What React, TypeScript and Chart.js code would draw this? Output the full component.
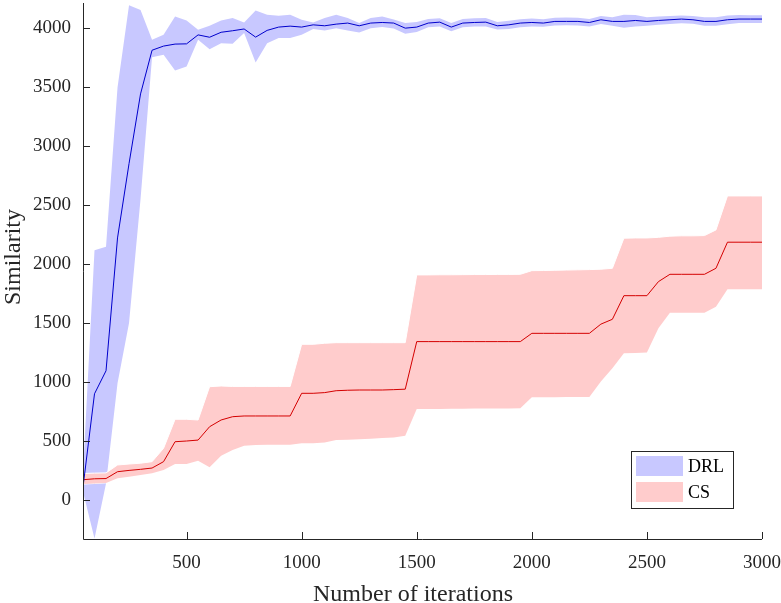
import React, { useEffect, useRef } from "react";
import { Chart, registerables } from "chart.js";

Chart.register(...registerables);

const iterations = [
  50, 100, 150, 200, 250, 300, 350, 400, 450, 500,
  550, 600, 650, 700, 750, 800, 850, 900, 950, 1000,
  1050, 1100, 1150, 1200, 1250, 1300, 1350, 1400, 1450, 1500,
  1550, 1600, 1650, 1700, 1750, 1800, 1850, 1900, 1950, 2000,
  2050, 2100, 2150, 2200, 2250, 2300, 2350, 2400, 2450, 2500,
  2550, 2600, 2650, 2700, 2750, 2800, 2850, 2900, 2950, 3000,
];

const drlMean = [
  110, 900, 1095, 2220, 2850, 3440, 3810, 3845, 3862, 3864,
  3940, 3920, 3962, 3975, 3990, 3921, 3978, 4006, 4014, 4006,
  4025, 4017, 4031, 4040, 4017, 4040, 4045, 4040, 3997, 4006,
  4040, 4048, 4006, 4040, 4045, 4048, 4017, 4025, 4040, 4045,
  4040, 4054, 4054, 4054, 4045, 4068, 4054, 4054, 4062, 4054,
  4062, 4068, 4074, 4068, 4054, 4054, 4068, 4074, 4074, 4074,
];

const drlUpper = [
  230, 2115, 2145, 3495, 4190, 4150, 3898, 3941, 4096, 4062,
  3983, 4017, 4062, 4082, 4045, 4147, 4110, 4102, 4110, 4068,
  4045, 4082, 4110, 4082, 4040, 4082, 4096, 4070, 4040, 4050,
  4075, 4080, 4040, 4075, 4080, 4082, 4050, 4060, 4072, 4078,
  4072, 4085, 4088, 4085, 4075, 4100, 4090, 4110, 4108, 4090,
  4095, 4100, 4105, 4100, 4090, 4090, 4105, 4108, 4106, 4106,
];

const drlLower = [
  70, -325, 140, 990, 1500, 2550, 3750, 3771, 3638, 3672,
  3898, 3819, 3870, 3864, 3955, 3706, 3870, 3913, 3913, 3941,
  3989, 3978, 3997, 3978, 3960, 3997, 4006, 3995, 3950, 3965,
  4005, 4012, 3970, 4005, 4010, 4012, 3985, 3990, 4005, 4010,
  4008, 4020, 4022, 4020, 4012, 4032, 4018, 4000, 4012, 4018,
  4025, 4032, 4038, 4034, 4018, 4018, 4030, 4040, 4040, 4040,
];

const csMean = [
  172, 180, 182, 240, 251, 260, 271, 325, 494, 500,
  508, 621, 678, 706, 712, 712, 712, 712, 712, 904,
  904, 910, 926, 930, 932, 932, 932, 935, 939, 1342,
  1342, 1342, 1342, 1342, 1342, 1342, 1342, 1342, 1342, 1412,
  1412, 1412, 1412, 1412, 1412, 1490, 1531, 1731, 1731, 1731,
  1850, 1912, 1912, 1912, 1912, 1963, 2184, 2184, 2184, 2184,
];

const csUpper = [
  225, 228, 230, 297, 305, 312, 325, 438, 684, 684,
  678, 960, 966, 962, 962, 962, 962, 962, 962, 1319,
  1319, 1328, 1333, 1333, 1333, 1333, 1333, 1333, 1333, 1907,
  1907, 1908, 1908, 1909, 1910, 1910, 1911, 1911, 1912, 1943,
  1944, 1946, 1948, 1950, 1952, 1955, 1963, 2218, 2220, 2220,
  2225, 2235, 2238, 2238, 2240, 2288, 2576, 2576, 2576, 2576,
];

const csLower = [
  135, 140, 145, 184, 198, 212, 226, 254, 305, 305,
  333, 277, 375, 423, 460, 466, 468, 469, 469, 480,
  480, 488, 508, 511, 515, 520, 525, 530, 545, 771,
  772, 772, 773, 774, 775, 775, 776, 776, 777, 870,
  871, 871, 872, 872, 873, 1003, 1116, 1243, 1246, 1249,
  1455, 1587, 1587, 1587, 1587, 1638, 1785, 1785, 1785, 1785,
];

const xTicks = [500, 1000, 1500, 2000, 2500, 3000];
const yTicks = [0, 500, 1000, 1500, 2000, 2500, 3000, 3500, 4000];

const seriesNames = ["DRL", "CS"];
const xTitle = "Number of iterations";
const yTitle = "Similarity";

const FONT = "'Liberation Serif', serif";
const AXIS_COLOR = "#262626";
const DRL_LINE = "#0000cc";
const CS_LINE = "#d40000";
const DRL_FILL = "#c8c8ff";
const CS_FILL = "#ffcccc";

Chart.defaults.font.family = FONT;

const pts = (ys: number[]) => ys.map((y, i) => ({ x: iterations[i], y }));

const matlabAxes = {
  id: "matlabAxes",
  afterDraw(chart: any) {
    const { ctx, chartArea } = chart;
    const xs = chart.scales.x;
    const ys = chart.scales.y;
    const { left, right, top, bottom } = chartArea;
    ctx.save();
    ctx.strokeStyle = AXIS_COLOR;
    ctx.lineWidth = 1;
    ctx.beginPath();
    ctx.moveTo(Math.round(left) + 0.5, top);
    ctx.lineTo(Math.round(left) + 0.5, Math.round(bottom) + 0.5);
    ctx.lineTo(right, Math.round(bottom) + 0.5);
    ctx.stroke();
    ctx.beginPath();
    xTicks.forEach((v) => {
      const px = Math.round(xs.getPixelForValue(v)) + 0.5;
      ctx.moveTo(px, bottom);
      ctx.lineTo(px, bottom - 7);
    });
    yTicks.forEach((v) => {
      const py = Math.round(ys.getPixelForValue(v)) + 0.5;
      ctx.moveTo(left, py);
      ctx.lineTo(left + 7, py);
    });
    ctx.stroke();

    ctx.fillStyle = AXIS_COLOR;
    ctx.font = `24px ${FONT}`;
    ctx.textAlign = "center";
    ctx.textBaseline = "alphabetic";
    ctx.fillText(xTitle, 413, 601);
    ctx.save();
    ctx.translate(20, 257);
    ctx.rotate(-Math.PI / 2);
    ctx.fillText(yTitle, 0, 0);
    ctx.restore();

    const bx = 631.5, by = 451.5, bw = 102, bh = 57;
    ctx.fillStyle = "#ffffff";
    ctx.fillRect(bx, by, bw, bh);
    ctx.strokeStyle = AXIS_COLOR;
    ctx.strokeRect(bx, by, bw, bh);
    ctx.fillStyle = DRL_FILL;
    ctx.fillRect(636, 456, 47, 20);
    ctx.fillStyle = CS_FILL;
    ctx.fillRect(636, 482, 47, 20);
    ctx.fillStyle = "#000000";
    ctx.font = `18px ${FONT}`;
    ctx.textAlign = "left";
    ctx.textBaseline = "middle";
    ctx.fillText(seriesNames[0], 688, 467);
    ctx.fillText(seriesNames[1], 688, 493);
    ctx.restore();
  },
};

export default function App() {
  const ref = useRef<HTMLCanvasElement | null>(null);
  useEffect(() => {
    if (!ref.current) return;
    const chart = new Chart(ref.current, {
      type: "line",
      data: {
        datasets: [
          { label: seriesNames[0], data: pts(drlMean), borderColor: DRL_LINE, borderWidth: 1, pointRadius: 0, fill: false, order: 1 },
          { label: seriesNames[1], data: pts(csMean), borderColor: CS_LINE, borderWidth: 1, pointRadius: 0, fill: false, order: 2 },
          { label: "DRL upper", data: pts(drlUpper), borderWidth: 0, borderColor: "rgba(0,0,0,0)", backgroundColor: DRL_FILL, pointRadius: 0, fill: "+1", order: 5 },
          { label: "DRL lower", data: pts(drlLower), borderWidth: 0, borderColor: "rgba(0,0,0,0)", pointRadius: 0, fill: false, order: 5 },
          { label: "CS upper", data: pts(csUpper), borderWidth: 1, borderColor: "#ffffff", backgroundColor: CS_FILL, pointRadius: 0, fill: "+1", order: 3 },
          { label: "CS lower", data: pts(csLower), borderWidth: 1, borderColor: "#ffffff", pointRadius: 0, fill: false, order: 3 },
        ],
      },
      options: {
        animation: false,
        responsive: false,
        layout: { padding: { top: 3, right: 19, left: 0, bottom: 0 } },
        plugins: {
          legend: { display: false },
          tooltip: { enabled: false },
        },
        elements: { line: { tension: 0 } },
        scales: {
          x: {
            type: "linear",
            min: 50,
            max: 3000,
            grid: { display: false, drawTicks: false },
            border: { display: false },
            afterBuildTicks: (s: any) => {
              s.ticks = xTicks.map((v) => ({ value: v }));
            },
            afterFit: (s: any) => {
              s.height = 64;
              s.paddingLeft = 0;
              s.paddingRight = 0;
            },
            ticks: {
              font: { family: FONT, size: 19 },
              color: AXIS_COLOR,
              padding: 13,
              maxRotation: 0,
              autoSkip: false,
              callback: (v: any) => String(v),
            },
          },
          y: {
            type: "linear",
            min: -330,
            max: 4210,
            grid: { display: false, drawTicks: false },
            border: { display: false },
            afterBuildTicks: (s: any) => {
              s.ticks = yTicks.map((v) => ({ value: v }));
            },
            afterFit: (s: any) => {
              s.width = 83;
              s.paddingTop = 0;
              s.paddingBottom = 0;
            },
            ticks: {
              font: { family: FONT, size: 19 },
              color: AXIS_COLOR,
              padding: 12,
              autoSkip: false,
              callback: (v: any) => String(v),
            },
          },
        },
      },
      plugins: [matlabAxes],
    });
    return () => chart.destroy();
  }, []);

  return (
    <div style={{ position: "absolute", left: 0, top: 0, width: 781, height: 603, background: "#fff" }}>
      <canvas ref={ref} width={781} height={603} />
    </div>
  );
}
